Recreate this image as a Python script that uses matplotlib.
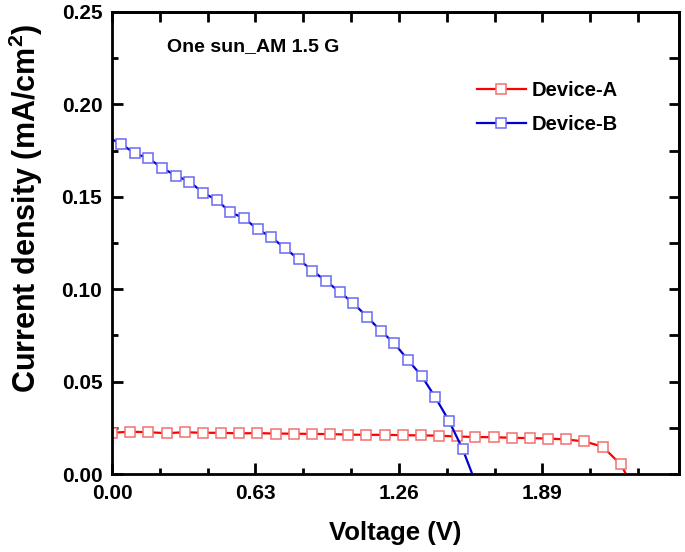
import numpy as np
import matplotlib
matplotlib.use('Agg')
import matplotlib.pyplot as plt
from matplotlib.ticker import MultipleLocator, FixedLocator, FormatStrFormatter

plt.rcParams['font.family'] = ['Liberation Sans', 'DejaVu Sans']
plt.rcParams['font.weight'] = 'bold'
plt.rcParams['mathtext.fontset'] = 'custom'
plt.rcParams['mathtext.rm'] = 'Liberation Sans:bold'
plt.rcParams['mathtext.bf'] = 'Liberation Sans:bold'

# Device-A (red): voltage and current density
volt_a = [0.0000, 0.0798, 0.1596, 0.2394, 0.3192, 0.3990, 0.4788, 0.5586,
          0.6384, 0.7182, 0.7980, 0.8778, 0.9576, 1.0374, 1.1172, 1.1970,
          1.2768, 1.3566, 1.4364, 1.5162, 1.5960, 1.6758, 1.7556, 1.8354,
          1.9152, 1.9950, 2.0748, 2.1546, 2.2344, 2.2570]
curr_a = [0.0223, 0.0229, 0.0226, 0.0221, 0.0226, 0.0223, 0.0223, 0.0220,
          0.0221, 0.0219, 0.0218, 0.0217, 0.0216, 0.0213, 0.0212, 0.0212,
          0.0210, 0.0209, 0.0207, 0.0203, 0.0200, 0.0199, 0.0196, 0.0194,
          0.0192, 0.0187, 0.0176, 0.0148, 0.0052, 0.0000]

# Device-B (blue)
volt_b = [0.00, 0.04, 0.10, 0.16, 0.22, 0.28, 0.34, 0.40, 0.46, 0.52, 0.58,
          0.64, 0.70, 0.76, 0.82, 0.88, 0.94, 1.00, 1.06, 1.12, 1.18, 1.24,
          1.30, 1.36, 1.42, 1.48, 1.54, 1.582]
curr_b = [0.1811, 0.1786, 0.1735, 0.1708, 0.1657, 0.1614, 0.1582, 0.1522,
          0.1483, 0.1416, 0.1384, 0.1324, 0.1281, 0.1221, 0.1162, 0.1100,
          0.1044, 0.0985, 0.0924, 0.0851, 0.0775, 0.0707, 0.0617, 0.0530,
          0.0415, 0.0287, 0.0135, 0.0000]

x_major = [0.00, 0.63, 1.26, 1.89]

fig = plt.figure(figsize=(6.85, 5.52), dpi=100)
ax = fig.add_axes([0.1635, 0.1413, 0.8277, 0.8370])

ax.plot(volt_a, curr_a, color='#ff0000', lw=1.6, marker='s', ms=6.5,
        mfc='white', mec='#f27070', mew=1.1, markevery=list(range(0, 29)),
        label='Device-A')
ax.plot(volt_b, curr_b, color='#0000d0', lw=1.6, marker='s', ms=6.5,
        mfc='white', mec='#6a6af2', mew=1.1, markevery=list(range(1, 27)),
        label='Device-B')

ax.set_xlim(0, 2.49)
ax.set_ylim(0, 0.25)
ax.xaxis.set_major_locator(FixedLocator(x_major))
ax.xaxis.set_minor_locator(MultipleLocator(0.21))
ax.xaxis.set_major_formatter(FormatStrFormatter('%.2f'))
ax.yaxis.set_major_locator(MultipleLocator(0.05))
ax.yaxis.set_minor_locator(MultipleLocator(0.025))
ax.yaxis.set_major_formatter(FormatStrFormatter('%.2f'))

ax.tick_params(which='both', direction='in', width=2, labelsize=15)
ax.tick_params(which='major', length=8)
ax.tick_params(which='minor', length=4)
ax.tick_params(axis='x', pad=7)
ax.tick_params(axis='y', pad=7)
for lab in ax.get_xticklabels() + ax.get_yticklabels():
    lab.set_fontweight('bold')

for s in ax.spines.values():
    s.set_linewidth(2)

# mirrored ticks on top and right, all the same length
top = ax.secondary_xaxis('top')
top.xaxis.set_major_locator(MultipleLocator(0.21))
top.tick_params(direction='in', length=7, width=2, labeltop=False)
top.spines['top'].set_linewidth(2)
right = ax.secondary_yaxis('right')
right.yaxis.set_major_locator(MultipleLocator(0.025))
right.tick_params(direction='in', length=7, width=2, labelright=False)
right.spines['right'].set_linewidth(2)

ax.set_xlabel('Voltage (V)', fontsize=18.5, fontweight='bold', labelpad=13)
ax.set_ylabel(r'Current density (mA/cm$^\mathbf{2}$)', fontsize=22,
              fontweight='bold')
ax.yaxis.set_label_coords(-0.118, 0.575)

ax.text(0.0965, 0.925, 'One sun_AM 1.5 G', transform=ax.transAxes,
        fontsize=14, fontweight='bold', va='center', ha='left')

ax.legend(loc='upper left', bbox_to_anchor=(0.643, 0.85), frameon=False,
          prop={'weight': 'bold', 'size': 14.5}, handlelength=2.45,
          handletextpad=0.3, labelspacing=0.75, borderpad=0, borderaxespad=0,
          numpoints=1)

fig.savefig('out.png', dpi=100)
